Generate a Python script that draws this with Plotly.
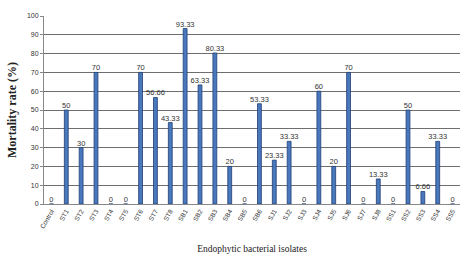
import plotly.graph_objects as go

categories = ["Control", "ST1", "ST2", "ST3", "ST4", "ST5", "ST6", "ST7", "ST8",
              "SB1", "SB2", "SB3", "SB4", "SB5", "SB6",
              "SJ1", "SJ2", "SJ3", "SJ4", "SJ5", "SJ6", "SJ7", "SJ8",
              "SS1", "SS2", "SS3", "SS4", "SS5"]
mortality = [0, 50, 30, 70, 0, 0, 70, 56.66, 43.33,
             93.33, 63.33, 80.33, 20, 0, 53.33,
             23.33, 33.33, 0, 60, 20, 70, 0, 13.33,
             0, 50, 6.66, 33.33, 0]
labels = [f"{v:g}" for v in mortality]
y_ticks = list(range(0, 101, 10))

fig = go.Figure(go.Bar(
    x=categories, y=mortality, text=labels, textposition="outside",
    constraintext="none", textangle=0,
    textfont=dict(family="Liberation Sans Narrow, Liberation Sans, sans-serif", size=7.5, color="#333333"),
    marker=dict(color="#4a78bd", line=dict(color="#1f3f73", width=0.8)),
    cliponaxis=False,
))
fig.update_layout(
    width=474, height=264, margin=dict(l=40, r=14, t=15, b=60),
    paper_bgcolor="white", plot_bgcolor="white",
    bargap=0.74, showlegend=False, uniformtext=dict(minsize=7, mode="show"),
    xaxis=dict(tickangle=-60, tickfont=dict(family="Liberation Sans Narrow, Liberation Sans, sans-serif", size=6.5, color="#333"),
               showline=True, linecolor="#888", linewidth=1,
               title=dict(text="Endophytic bacterial isolates", standoff=16,
                          font=dict(family="Liberation Serif, Times New Roman, serif", size=9.5, color="#222"))),
    yaxis=dict(range=[0, 100], tickvals=y_ticks, showgrid=True, gridcolor="#6e6e6e", gridwidth=1,
               showline=True, linecolor="#888", ticks="outside", ticklen=3, tickcolor="#888",
               tickfont=dict(family="Liberation Sans Narrow, Liberation Sans, sans-serif", size=7, color="#333"),
               title=dict(text="<b>Mortality rate (%)</b>", standoff=7,
                          font=dict(family="Liberation Serif, Times New Roman, serif", size=12, color="#222"))),
)
fig.write_html("out.html")
